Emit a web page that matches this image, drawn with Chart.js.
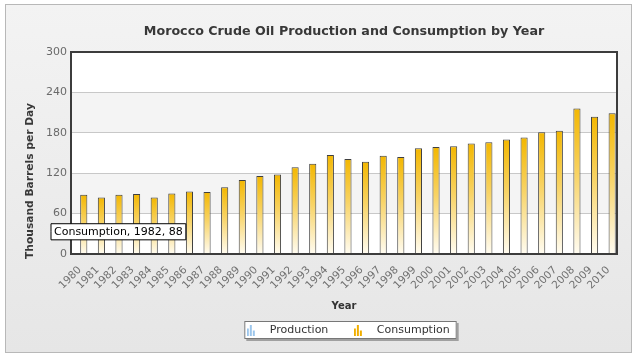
<!DOCTYPE html>
<html>
<head>
<meta charset="utf-8">
<script src="https://cdn.jsdelivr.net/npm/chart.js@4/dist/chart.umd.min.js"></script>
<style>
  html, body { margin: 0; padding: 0; background: #fff; }
  #wrap { width: 640px; height: 362px; }
</style>
</head>
<body>
<div id="wrap"><canvas id="oilChart" width="640" height="362"></canvas></div>
<script>
// Chart data (thousand barrels per day)
const years = ['1980', '1981', '1982', '1983', '1984', '1985', '1986', '1987', '1988', '1989',
    '1990', '1991', '1992', '1993', '1994', '1995', '1996', '1997', '1998', '1999',
    '2000', '2001', '2002', '2003', '2004', '2005', '2006', '2007', '2008', '2009', '2010'];
const production = [0, 0, 0, 0, 0, 0, 0, 0, 0, 0,
    0, 0, 0, 0, 0, 0, 0, 0, 0, 0,
    0, 0, 0, 0, 0, 0, 0, 0, 0, 0, 0];
const consumption = [88, 84, 88, 89, 84, 90, 93, 92, 99, 110,
    116, 118, 129, 134, 147, 141, 137, 146, 144, 157,
    159, 160, 164, 166, 170, 173, 181, 183, 216, 204, 209];
const yTicks = [0, 60, 120, 180, 240, 300];

const chartTitle = 'Morocco Crude Oil Production and Consumption by Year';
const yTitle = 'Thousand Barrels per Day';

/**
 * Small bar-chart icon used in the legend
 */
function makeIcon(color) {
    const c = document.createElement('canvas');
    c.width = 9;
    c.height = 11;
    const g = c.getContext('2d');
    g.fillStyle = color;
    g.fillRect(0, 4, 2, 7);
    g.fillRect(3, 0, 2, 11);
    g.fillRect(6, 6, 2, 5);
    return c;
}

/**
 * Per-bar gradient, gold at the top fading to white at the base
 */
function barGradient(ctx) {
    const chart = ctx.chart;
    if (!chart.chartArea || ctx.type !== 'data') return '#f3b700';
    const y = chart.scales.y;
    const top = y.getPixelForValue(ctx.raw);
    const bot = y.getPixelForValue(0);
    if (!isFinite(top) || bot - top < 1) return '#f3b700';
    const g = chart.ctx.createLinearGradient(0, top, 0, bot);
    g.addColorStop(0, '#f3b700');
    g.addColorStop(0.45, '#f8d364');
    g.addColorStop(1, '#fffcf2');
    return g;
}

// Backdrop, plot bands, legend frame and titles
const decorPlugin = {
    id: 'decor',
    beforeDraw(chart) {
        const c = chart.ctx;
        const a = chart.chartArea;
        const y = chart.scales.y;
        c.save();
        // outer panel
        const bg = c.createLinearGradient(0, 5, 0, 352);
        bg.addColorStop(0, '#f3f3f3');
        bg.addColorStop(1, '#e6e6e6');
        c.fillStyle = bg;
        c.fillRect(6, 5, 625, 347);
        c.strokeStyle = '#b8b8b8';
        c.lineWidth = 1;
        c.strokeRect(5.5, 4.5, 626, 348);
        // plot bands
        c.fillStyle = '#ffffff';
        c.fillRect(a.left, a.top, a.width, a.height);
        c.fillStyle = '#f4f4f4';
        [[60, 120], [180, 240]].forEach(([lo, hi]) => {
            const t = y.getPixelForValue(hi);
            const b = y.getPixelForValue(lo);
            c.fillRect(a.left, t, a.width, b - t);
        });
        // chart title
        c.fillStyle = '#383838';
        c.font = 'bold 12.7px "DejaVu Sans"';
        c.textAlign = 'center';
        c.textBaseline = 'middle';
        c.fillText(chartTitle, (a.left + a.right) / 2, 32);
        // y axis title
        c.translate(30, 181);
        c.rotate(-Math.PI / 2);
        c.font = 'bold 10.7px "DejaVu Sans"';
        c.fillText(yTitle, 0, 0);
        c.restore();

        // legend frame
        const boxes = chart.legend && chart.legend.legendHitBoxes;
        if (boxes && boxes.length) {
            const first = boxes[0];
            const last = boxes[boxes.length - 1];
            const l = first.left + 6;
            const r = last.left + last.width + 7;
            const t = first.top - 3.5;
            const h = 18;
            c.save();
            c.fillStyle = '#a0a0a0';
            c.fillRect(l + 2, t + 2, r - l, h);
            c.fillStyle = '#ffffff';
            c.fillRect(l, t, r - l, h);
            c.strokeStyle = '#777';
            c.strokeRect(l + 0.5, t + 0.5, r - l - 1, h - 1);
            c.restore();
        }
    },
    afterDatasetsDraw(chart) {
        const c = chart.ctx;
        const a = chart.chartArea;
        c.save();
        c.strokeStyle = '#3c3c3c';
        c.lineWidth = 2;
        c.strokeRect(a.left, a.top, a.width, a.height);
        c.restore();
    }
};

Chart.Tooltip.positioners.besideAxis = function (items) {
    if (!items.length) return false;
    const chart = this.chart;
    return { x: chart.chartArea.left - 20, y: chart.scales.y.getPixelForValue(33) };
};

const chart = new Chart(document.getElementById('oilChart'), {
    type: 'bar',
    data: {
        labels: years,
        datasets: [
            {
                label: 'Production',
                data: production,
                backgroundColor: '#a9cdee',
                borderColor: '#6f9cc8',
                borderWidth: 0,
                pointStyle: makeIcon('#9cc6ec')
            },
            {
                label: 'Consumption',
                data: consumption,
                backgroundColor: barGradient,
                borderColor: '#3f3f3f',
                borderWidth: { top: 1, left: 1, right: 1, bottom: 0 },
                borderSkipped: false,
                pointStyle: makeIcon('#f0ae00')
            }
        ]
    },
    options: {
        responsive: false,
        animation: false,
        events: [],
        categoryPercentage: 0.9,
        barPercentage: 0.9,
        layout: { padding: { top: 52, right: 23, left: 0, bottom: 16.5 } },
        scales: {
            x: {
                grid: { display: false },
                border: { display: false },
                ticks: {
                    autoSkip: false,
                    minRotation: 45,
                    maxRotation: 45,
                    padding: 2,
                    color: '#707070',
                    font: { family: 'DejaVu Sans', size: 10.5 }
                },
                title: {
                    display: true,
                    text: 'Year',
                    color: '#333',
                    font: { family: 'DejaVu Sans', size: 10, weight: 'bold' },
                    padding: { top: 0, bottom: -5 }
                },
                afterFit(scale) { scale.height = 53.5; }
            },
            y: {
                min: 0,
                max: 300,
                afterBuildTicks(scale) { scale.ticks = yTicks.map(v => ({ value: v })); },
                grid: { color: '#c8c8c8', drawTicks: false },
                border: { display: false },
                ticks: {
                    padding: 4,
                    color: '#6a6a6a',
                    font: { family: 'DejaVu Sans', size: 11 }
                },
                afterFit(scale) { scale.width = 71; }
            }
        },
        plugins: {
            legend: {
                position: 'bottom',
                fullSize: false,
                labels: {
                    usePointStyle: true,
                    pointStyleWidth: 26,
                    color: '#333',
                    padding: 17,
                    font: { family: 'DejaVu Sans', size: 11 }
                }
            },
            tooltip: {
                enabled: true,
                position: 'besideAxis',
                xAlign: 'left',
                yAlign: 'center',
                caretSize: 0,
                caretPadding: 0,
                cornerRadius: 0,
                displayColors: false,
                backgroundColor: '#ffffff',
                borderColor: '#000000',
                borderWidth: 1,
                bodyColor: '#000000',
                bodyFont: { family: 'DejaVu Sans', size: 11, lineHeight: 1.1 },
                padding: { x: 3, y: 2 },
                callbacks: {
                    title: () => '',
                    label: ctx => `${ctx.dataset.label}, ${ctx.label}, ${ctx.raw}`
                }
            }
        }
    },
    plugins: [decorPlugin]
});

// show the hover label from the reference
chart.tooltip.setActiveElements([{ datasetIndex: 1, index: 2 }], { x: 0, y: 0 });
chart.update();
</script>
</body>
</html>
